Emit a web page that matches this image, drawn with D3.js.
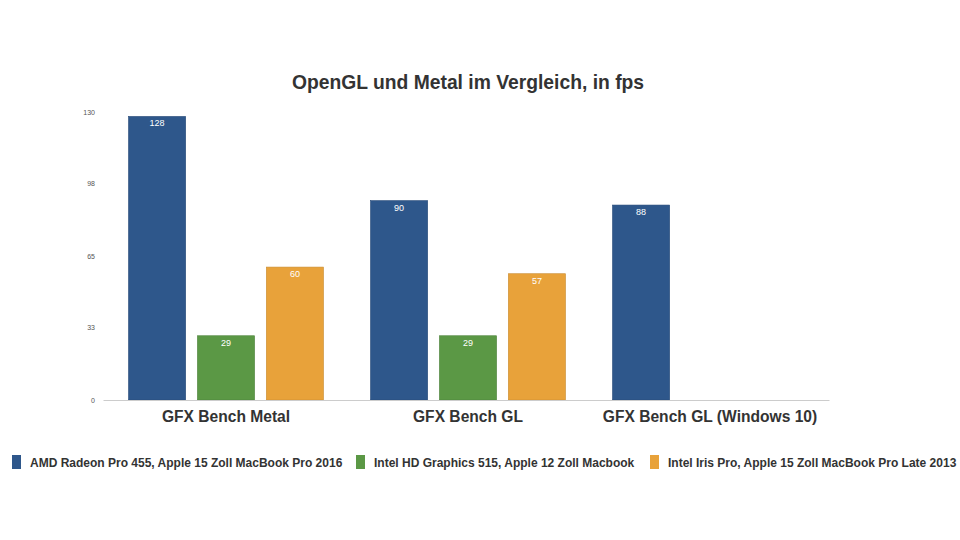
<!DOCTYPE html>
<html>
<head>
<meta charset="utf-8">
<script src="https://cdn.jsdelivr.net/npm/d3@7"></script>
<style>
  body { margin: 0; background: #fff; }
  svg text { font-family: "Liberation Sans", Arial, Helvetica, sans-serif; }
</style>
</head>
<body>
<svg id="chart" width="960" height="540"></svg>
<script>
// Data
var categories = ['GFX Bench Metal', 'GFX Bench GL', 'GFX Bench GL (Windows 10)'];
var seriesNames = [
  'AMD Radeon Pro 455, Apple 15 Zoll MacBook Pro 2016',
  'Intel HD Graphics 515, Apple 12 Zoll Macbook',
  'Intel Iris Pro, Apple 15 Zoll MacBook Pro Late 2013'
];
var amdValues = [128, 90, 88];
var intelHdValues = [29, 29, null];
var irisValues = [60, 57, null];
var tickValues = [0, 33, 65, 98, 130];
var seriesColors = ['#2e578b', '#5b9845', '#e8a23a'];

var seriesValues = [amdValues, intelHdValues, irisValues];

// Chart size
var margin = { top: 112, left: 105, right: 129, bottom: 140 },
    width = 960 - margin.left - margin.right,
    height = 540 - margin.top - margin.bottom;

var svg = d3.select('#chart');

// Title
svg.append('text')
  .attr('x', 468)
  .attr('y', 89)
  .attr('text-anchor', 'middle')
  .style('font-size', '19.3px')
  .style('font-weight', 'bold')
  .style('fill', '#333')
  .text('OpenGL und Metal im Vergleich, in fps');

var g = svg.append('g')
  .attr('transform', 'translate(' + margin.left + ',' + margin.top + ')');

// Scales
var x0 = d3.scaleBand()
  .domain(categories)
  .range([0, width]);

var x1 = d3.scaleBand()
  .domain(d3.range(seriesNames.length))
  .range([23.5, x0.bandwidth() - 23.5])
  .paddingInner(0.17);

var y = d3.scaleLinear()
  .domain([0, 130])
  .range([height, 0]);

// Y axis labels
var yAxis = g.append('g')
  .call(d3.axisLeft(y).tickValues(tickValues).tickSize(0).tickPadding(10));
yAxis.select('.domain').remove();
yAxis.selectAll('text')
  .attr('fill', '#555')
  .style('font-size', '7px');

// Bars
var rows = [];
categories.forEach(function(c, ci) {
  seriesValues.forEach(function(vals, si) {
    if (vals[ci] != null) rows.push({ cat: c, s: si, v: vals[ci] });
  });
});

var bars = g.selectAll('.bar')
  .data(rows).enter()
  .append('g')
    .attr('class', 'bar')
    .attr('transform', function(d) { return 'translate(' + (x0(d.cat) + x1(d.s)) + ',0)'; });

bars.append('rect')
  .attr('y', function(d) { return y(d.v); })
  .attr('width', x1.bandwidth())
  .attr('height', function(d) { return height - y(d.v); })
  .attr('fill', function(d) { return seriesColors[d.s]; })
  .attr('stroke', function(d) { return d3.color(seriesColors[d.s]).darker(0.4); })
  .attr('stroke-width', 0.6);

bars.append('text')
  .attr('x', x1.bandwidth() / 2)
  .attr('y', function(d) { return y(d.v) + 10; })
  .attr('text-anchor', 'middle')
  .style('font-size', '9px')
  .style('fill', '#fff')
  .text(function(d) { return d.v; });

// X axis
var xAxis = g.append('g')
  .attr('transform', 'translate(0,' + height + ')')
  .call(d3.axisBottom(x0).tickSize(0).tickPadding(11));
xAxis.select('.domain')
  .attr('stroke', '#ccc')
  .attr('transform', 'translate(-2,0)');
xAxis.selectAll('text')
  .attr('fill', '#333')
  .style('font-size', '15.6px')
  .style('font-weight', 'bold');

// Legend
var legendX = [12, 356, 650];
var legend = svg.selectAll('.legend')
  .data(seriesNames).enter()
  .append('g')
    .attr('class', 'legend')
    .attr('transform', function(d, i) { return 'translate(' + legendX[i] + ',455)'; });

legend.append('rect')
  .attr('width', 9)
  .attr('height', 14)
  .attr('fill', function(d, i) { return seriesColors[i]; });

legend.append('text')
  .attr('x', 18)
  .attr('y', 11.5)
  .style('font-size', '12px')
  .style('font-weight', 'bold')
  .style('fill', '#333')
  .text(function(d) { return d; });
</script>
</body>
</html>
